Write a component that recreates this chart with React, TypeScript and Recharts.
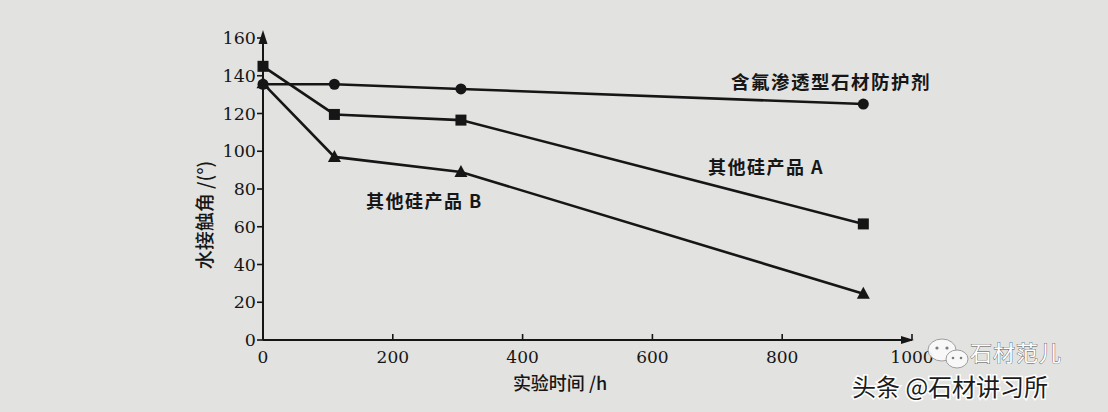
import React from 'react';
import { LineChart, Line, XAxis, YAxis } from 'recharts';

// test time (h) and water contact angle (°) per product
const hours = [0, 110, 305, 925];
const fluoroAgent = [135.5, 135.5, 133, 125];
const siliconA = [145, 119.5, 116.5, 61.5];
const siliconB = [136, 97, 89, 24.5];

const xTicks = [0, 200, 400, 600, 800, 1000];
const yTicks = [0, 20, 40, 60, 80, 100, 120, 140, 160];

const seriesNames = ['含氟渗透型石材防护剂', '其他硅产品 A', '其他硅产品 B'];

const data = hours.map((h, i) => ({
  h,
  fluoro: fluoroAgent[i],
  a: siliconA[i],
  b: siliconB[i],
}));

const W = 1108;
const H = 412;
const LEFT = 263;
const RIGHT = 196;
const TOP = 38;
const BOTTOM = 72;

const INK = '#161616';
const BG = '#e2e2e0';
const cjk = 'Noto Sans CJK SC';
const num = 'DejaVu Serif';

const CircleDot = (p: any) => (
  <circle key={`c${p.index}`} cx={p.cx} cy={p.cy} r={5.5} fill={INK} />
);
const SquareDot = (p: any) => (
  <rect key={`s${p.index}`} x={p.cx - 5.5} y={p.cy - 5.5} width={11} height={11} fill={INK} />
);
const TriangleDot = (p: any) => (
  <path
    key={`t${p.index}`}
    d={`M${p.cx},${p.cy - 7} L${p.cx + 6.5},${p.cy + 5} L${p.cx - 6.5},${p.cy + 5} Z`}
    fill={INK}
  />
);

// x ticks point up into the plot, labels sit below the axis
const XTick = (p: any) => (
  <g>
    <line x1={p.x} y1={p.y} x2={p.x} y2={p.y - 6} stroke={INK} strokeWidth={1.6} />
    <text x={p.x} y={p.y + 23} textAnchor="middle" fontFamily={num} fontSize={17} fill={INK}>
      {p.payload.value}
    </text>
  </g>
);

// y tick numbers right-aligned against the short outward tick line
const YTick = (p: any) => (
  <text x={p.x} y={p.y + 6} textAnchor="end" fontFamily={num} fontSize={17.5} fill={INK}>
    {p.payload.value}
  </text>
);

export default function App() {
  const plotRight = W - RIGHT;
  const plotBottom = H - BOTTOM;
  return (
    <div style={{ position: 'fixed', left: 0, top: 0, width: W, height: H, background: BG }}>
      <LineChart width={W} height={H} data={data} margin={{ top: TOP, right: RIGHT, bottom: 0, left: 0 }}>
        <XAxis
          type="number"
          dataKey="h"
          domain={[0, 1000]}
          ticks={xTicks}
          height={BOTTOM}
          tickSize={0}
          tickMargin={0}
          tick={<XTick />}
          axisLine={{ stroke: INK, strokeWidth: 2 }}
        />
        <YAxis
          type="number"
          domain={[0, 160]}
          ticks={yTicks}
          width={LEFT}
          tickSize={6}
          tickMargin={1}
          tick={<YTick />}
          tickLine={{ stroke: INK, strokeWidth: 1.6 }}
          axisLine={{ stroke: INK, strokeWidth: 2 }}
        />
        <Line dataKey="fluoro" stroke={INK} strokeWidth={2.6} dot={CircleDot} isAnimationActive={false} />
        <Line dataKey="a" stroke={INK} strokeWidth={2.6} dot={SquareDot} isAnimationActive={false} />
        <Line dataKey="b" stroke={INK} strokeWidth={2.6} dot={TriangleDot} isAnimationActive={false} />
      </LineChart>

      <svg
        width={W}
        height={H}
        style={{ position: 'absolute', left: 0, top: 0, pointerEvents: 'none' }}
      >
        {/* axis arrowheads */}
        <path d={`M${LEFT},${TOP - 8} L${LEFT + 4.5},${TOP + 6} L${LEFT - 4.5},${TOP + 6} Z`} fill={INK} />
        <path
          d={`M${plotRight + 2},${plotBottom} L${plotRight - 11},${plotBottom - 4} L${plotRight - 11},${plotBottom + 4} Z`}
          fill={INK}
        />

        {/* axis titles */}
        <text
          transform="translate(212,215) rotate(-90)"
          textAnchor="middle"
          fontFamily={cjk}
          fontSize={19}
          fontWeight={500}
          fill={INK}
        >
          水接触角 /(°)
        </text>
        <text x={560} y={390} textAnchor="middle" fontFamily={cjk} fontSize={18} fontWeight={500} fill={INK}>
          实验时间 /h
        </text>

        {/* series names */}
        <text x={731} y={89} fontFamily={cjk} fontSize={18.5} fontWeight={700} letterSpacing={1.5} fill={INK}>
          {seriesNames[0]}
        </text>
        <text x={708} y={174} fontFamily={cjk} fontSize={18} fontWeight={700} letterSpacing={1.5} fill={INK}>
          {seriesNames[1]}
        </text>
        <text x={366} y={208} fontFamily={cjk} fontSize={18} fontWeight={700} letterSpacing={1.5} fill={INK}>
          {seriesNames[2]}
        </text>

        {/* account watermark */}
        <g opacity={0.95}>
          <ellipse cx={942} cy={350} rx={14} ry={11} fill="#fafafa" stroke="#9a9a9a" strokeWidth={1} />
          <ellipse cx={957} cy={359} rx={11} ry={9} fill="#fafafa" stroke="#9a9a9a" strokeWidth={1} />
          <circle cx={937} cy={348} r={1.6} fill="#777" />
          <circle cx={947} cy={348} r={1.6} fill="#777" />
          <circle cx={953} cy={358} r={1.3} fill="#777" />
          <circle cx={961} cy={358} r={1.3} fill="#777" />
        </g>
        <text
          x={970}
          y={361}
          fontFamily={cjk}
          fontSize={22}
          letterSpacing={1}
          fill="#ffffff"
          stroke="#555"
          strokeWidth={0.8}
          paintOrder="stroke"
        >
          石材范儿
        </text>
        <text
          x={852}
          y={396}
          fontFamily={cjk}
          fontSize={24}
          fill="#1c1c1c"
          stroke="#ffffff"
          strokeWidth={3}
          paintOrder="stroke"
        >
          头条 @石材讲习所
        </text>
      </svg>
    </div>
  );
}
